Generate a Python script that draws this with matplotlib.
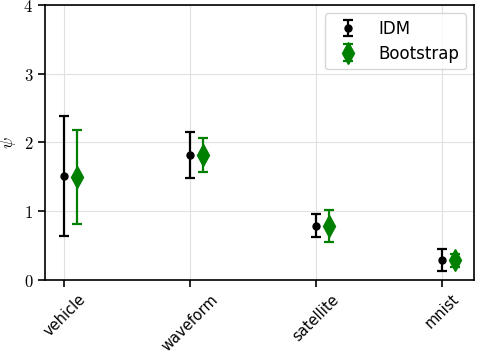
import numpy as np
import matplotlib
matplotlib.use("Agg")
import matplotlib.pyplot as plt
from matplotlib.ticker import FuncFormatter

plt.rcParams["mathtext.fontset"] = "cm"
plt.rcParams["font.family"] = ["DejaVu Sans"]

datasets = ["vehicle", "waveform", "satellite", "mnist"]
idm_mean = [1.51, 1.82, 0.79, 0.29]
idm_err = [0.87, 0.33, 0.17, 0.165]
boot_mean = [1.50, 1.82, 0.79, 0.285]
boot_err = [0.68, 0.25, 0.23, 0.10]

x = np.arange(len(datasets))

fig = plt.figure(figsize=(4.78, 3.54), dpi=100)
ax = fig.add_axes([0.094, 0.209, 0.898, 0.777])

ax.errorbar(x, idm_mean, yerr=idm_err, fmt="o", color="black", markersize=5,
            elinewidth=1.6, capsize=3.5, capthick=1.6, label="IDM")
ax.errorbar(x + 0.1, boot_mean, yerr=boot_err, fmt="d", color="green", markersize=11,
            elinewidth=1.6, capsize=3.5, capthick=1.6, label="Bootstrap")

ax.set_ylim(0, 4)
ax.set_yticks([0, 1, 2, 3, 4])
ax.yaxis.set_major_formatter(FuncFormatter(lambda v, p: f"${v:g}$"))
ax.set_xticks(x)
ax.set_xticklabels(datasets, rotation=45, fontsize=10.5)
ax.tick_params(axis="y", labelsize=12)
ax.set_ylabel(r"$\psi$", fontsize=12)
ax.grid(True, color="#e0e0e0", linewidth=0.8)
ax.set_axisbelow(True)
for s in ax.spines.values():
    s.set_linewidth(1.2)
ax.tick_params(width=1.2, length=5)

ax.legend(loc="upper right", fontsize=12, labelspacing=0.4)

fig.savefig("out.png", dpi=100)
